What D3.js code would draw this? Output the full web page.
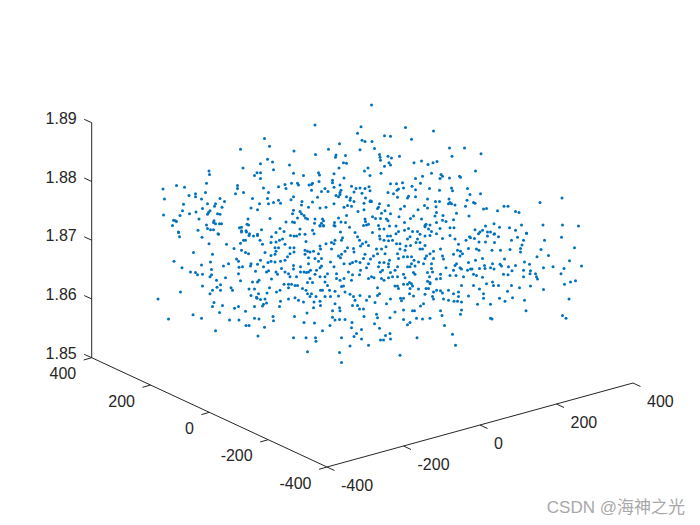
<!DOCTYPE html>
<html><head><meta charset="utf-8">
<style>html,body{margin:0;padding:0;background:#fff}svg{display:block}</style>
<script src="https://cdn.jsdelivr.net/npm/d3@7/dist/d3.min.js"></script></head>
<body><svg id="chart" width="700" height="525"></svg>
<script>
const xTicks = [-400,-200,0,200,400];
const yTicks = [400,200,0,-200,-400];
const zTicks = [1.85,1.86,1.87,1.88,1.89];
const zLabels = ["1.85","1.86","1.87","1.88","1.89"];
const watermark = "CSDN @海神之光";
// each point: [position across the projected view, height value]
const cloudPoints = [
[-90,1.8896],[-191,1.8873],[-181,1.8860],[-239,1.8855],[-132,1.8852],[-89,1.8846],[-63,1.8855],[-41,1.8864],[-5,1.8882],[2,1.8893],[4,1.8870],[10,1.8868],[0,1.8854],[-48,1.8845],[-49,1.8841],[-29,1.8844],[-185,1.8838],[-175,1.8833],[-199,1.8830],[-234,1.8823],[-141,1.8828],[-173,1.8820],[-33,1.8832],[-27,1.8831],[-42,1.8823],[9,1.8818],[16,1.8823],[-302,1.8818],[-301,1.8812],[-206,1.8815],[-199,1.8815],[-211,1.8810],[-199,1.8805],[-133,1.8814],[-113,1.8810],[-83,1.8815],[-81,1.8811],[-52,1.8813],[-32,1.8806],[-55,1.8802],[-55,1.8798],[-82,1.8800],[-307,1.8797],[-245,1.8793],[-245,1.8788],[-367,1.8793],[-351,1.8790],[-394,1.8787],[-193,1.8789],[-163,1.8791],[-150,1.8795],[-148,1.8788],[-137,1.8797],[-125,1.8797],[-123,1.8794],[-102,1.8794],[-97,1.8795],[-95,1.8797],[-97,1.8785],[-77,1.8783],[-70,1.8788],[-64,1.8783],[-52,1.8790],[-40,1.8794],[-38,1.8785],[-40,1.8781],[-17,1.8792],[-8,1.8788],[0,1.8789],[-12,1.8782],[10,1.8788],[18,1.8791],[-309,1.8781],[-183,1.8781],[-233,1.8781],[-249,1.8779],[-342,1.8776],[-329,1.8779],[-329,1.8774],[-391,1.8770],[-317,1.8770],[-280,1.8771],[-271,1.8766],[-305,1.8762],[-289,1.8762],[-291,1.8758],[-353,1.8761],[-315,1.8754],[-300,1.8750],[-303,1.8747],[-276,1.8756],[-355,1.8750],[-360,1.8742],[-328,1.8748],[-341,1.8745],[-305,1.8744],[-285,1.8745],[-280,1.8744],[-393,1.8743],[-215,1.8771],[-185,1.8771],[-183,1.8762],[-173,1.8764],[-163,1.8768],[-159,1.8763],[-201,1.8762],[-218,1.8755],[-205,1.8752],[-138,1.8769],[-133,1.8774],[-116,1.8766],[-117,1.8760],[-95,1.8765],[-103,1.8756],[-80,1.8755],[-68,1.8756],[-52,1.8762],[-85,1.8773],[-48,1.8776],[-43,1.8774],[-40,1.8778],[-27,1.8774],[-19,1.8772],[-20,1.8768],[-25,1.8759],[-17,1.8758],[-32,1.8756],[-12,1.8766],[4,1.8780],[11,1.8772],[8,1.8763],[20,1.8766],[-4,1.8749],[8,1.8752],[-133,1.8751],[-135,1.8745],[-120,1.8749],[-117,1.8745],[-112,1.8742],[-109,1.8738],[-125,1.8738],[-105,1.8736],[-148,1.8731],[-135,1.8731],[-131,1.8730],[-180,1.8737],[-224,1.8736],[-226,1.8727],[-223,1.8726],[-237,1.8722],[-241,1.8721],[-322,1.8736],[-373,1.8734],[-369,1.8733],[-367,1.8732],[-375,1.8725],[-292,1.8733],[-293,1.8730],[-289,1.8728],[-281,1.8728],[-277,1.8728],[-307,1.8726],[-305,1.8720],[-299,1.8718],[-293,1.8718],[-324,1.8717],[-363,1.8714],[-284,1.8711],[-237,1.8716],[-228,1.8716],[-221,1.8711],[-197,1.8718],[-90,1.8736],[-75,1.8736],[-73,1.8733],[-77,1.8729],[-73,1.8725],[-80,1.8725],[-91,1.8729],[-51,1.8730],[-52,1.8725],[-43,1.8738],[-38,1.8731],[-29,1.8730],[-27,1.8742],[10,1.8736],[11,1.8732],[7,1.8725],[13,1.8726],[17,1.8727],[-205,1.8710],
[23,1.8930],[91,1.8892],[147,1.8886],[49,1.8878],[61,1.8877],[103,1.8872],[24,1.8868],[29,1.8856],[179,1.8857],[209,1.8857],[242,1.8847],[184,1.8843],[39,1.8846],[40,1.8841],[41,1.8836],[56,1.8843],[63,1.8840],[79,1.8843],[58,1.8832],[61,1.8828],[49,1.8826],[108,1.8832],[123,1.8835],[136,1.8829],[146,1.8832],[154,1.8834],[231,1.8818],[42,1.8814],[143,1.8814],[162,1.8812],[165,1.8809],[125,1.8809],[111,1.8805],[179,1.8806],[199,1.8809],[201,1.8807],[160,1.8805],[20,1.8810],[61,1.8796],[73,1.8796],[85,1.8798],[121,1.8797],[104,1.8792],[87,1.8789],[77,1.8787],[74,1.8785],[111,1.8786],[139,1.8788],[159,1.8785],[183,1.8789],[185,1.8784],[215,1.8788],[56,1.8781],[67,1.8779],[75,1.8773],[97,1.8775],[95,1.8772],[111,1.8774],[20,1.8784],[220,1.8778],[241,1.8779],[135,1.8770],[151,1.8766],[159,1.8766],[178,1.8770],[180,1.8764],[177,1.8762],[183,1.8762],[190,1.8760],[214,1.8768],[227,1.8764],[230,1.8763],[211,1.8758],[21,1.8767],[23,1.8766],[39,1.8762],[37,1.8756],[35,1.8754],[57,1.8759],[50,1.8750],[81,1.8753],[89,1.8758],[116,1.8752],[129,1.8759],[135,1.8755],[152,1.8757],[247,1.8753],[253,1.8754],[275,1.8750],[288,1.8758],[296,1.8758],[360,1.8764],[404,1.8772],[311,1.8749],[318,1.8747],[43,1.8746],[61,1.8745],[25,1.8740],[31,1.8737],[41,1.8737],[53,1.8736],[56,1.8733],[78,1.8740],[101,1.8737],[107,1.8741],[123,1.8736],[153,1.8747],[150,1.8741],[166,1.8742],[165,1.8734],[172,1.8732],[187,1.8735],[193,1.8746],[218,1.8741],[153,1.8730],[89,1.8730],[37,1.8725],[130,1.8725],[132,1.8727],[140,1.8726],[230,1.8718],[245,1.8717],[251,1.8724],[268,1.8728],[279,1.8722],[299,1.8721],[323,1.8726],[311,1.8717],[333,1.8712],[366,1.8726],[405,1.8726],[437,1.8724],[255,1.8714],[269,1.8711],[237,1.8711],
[-363,1.8713],[-361,1.8706],[-316,1.8705],[-283,1.8710],[-302,1.8694],[-333,1.8679],[-295,1.8676],[-372,1.8664],[-356,1.8653],[-317,1.8658],[-299,1.8663],[-297,1.8650],[-339,1.8646],[-329,1.8645],[-325,1.8641],[-315,1.8642],[-297,1.8641],[-300,1.8638],[-315,1.8622],[-287,1.8632],[-279,1.8624],[-286,1.8620],[-295,1.8615],[-279,1.8615],[-269,1.8636],[-273,1.8656],[-263,1.8660],[-267,1.8693],[-252,1.8686],[-359,1.8612],[-300,1.8609],[-404,1.8600],[-292,1.8594],[-295,1.8587],[-275,1.8589],[-281,1.8577],[-334,1.8573],[-317,1.8567],[-383,1.8566],[-289,1.8546],[-258,1.8619],[-255,1.8615],[-251,1.8584],[-243,1.8587],[-261,1.8564],[-242,1.8564],[-229,1.8579],[-228,1.8555],[-222,1.8555],[-211,1.8567],[-202,1.8566],[-191,1.8552],[-204,1.8537],[-174,1.8570],[-173,1.8563],[-131,1.8570],[-133,1.8534],[-112,1.8560],[-108,1.8534],[-105,1.8510],[-91,1.8559],[-89,1.8534],[-88,1.8528],[-75,1.8546],[-60,1.8555],[-41,1.8509],[-37,1.8492],[-37,1.8534],[-20,1.8520],[-12,1.8536],[-7,1.8541],[3,1.8548],[3,1.8532],[17,1.8521],[-17,1.8551],[-16,1.8560],[-30,1.8565],[-41,1.8565],[-50,1.8564],[-55,1.8569],[-55,1.8580],[-41,1.8585],[-40,1.8580],[8,1.8570],[-106,1.8576],[-93,1.8585],[-79,1.8589],[-161,1.8587],[-211,1.8587],[-195,1.8588],[-193,1.8591],[-187,1.8593],[-199,1.8599],[-190,1.8600],[-206,1.8601],[-207,1.8603],[-218,1.8606],[-222,1.8617],[-211,1.8617],[-203,1.8609],[-186,1.8610],[-181,1.8619],[-15,1.8589],[-5,1.8589],[-1,1.8583],[7,1.8583],[-239,1.8631],[-215,1.8629],[-205,1.8629],[-202,1.8632],[-187,1.8646],[-183,1.8648],[-209,1.8647],[-243,1.8643],[-242,1.8654],[-235,1.8655],[-219,1.8656],[-218,1.8660],[-205,1.8659],[-243,1.8664],[-247,1.8668],[-199,1.8666],[-193,1.8655],[-184,1.8662],[-229,1.8679],[-223,1.8677],[-237,1.8683],[-233,1.8700],[-239,1.8695],[-229,1.8700],[-222,1.8708],[-213,1.8707],[-205,1.8708],[-237,1.8714],[-227,1.8714],[-200,1.8700],[-195,1.8693],[-190,1.8679],
[333,1.8712],[403,1.8705],[369,1.8700],[429,1.8687],[362,1.8684],[377,1.8674],[354,1.8672],[419,1.8665],[443,1.8656],[386,1.8655],[367,1.8653],[408,1.8652],[402,1.8643],[409,1.8625],[421,1.8629],[431,1.8631],[367,1.8616],[418,1.8600],[405,1.8572],[412,1.8567],[351,1.8643],[353,1.8638],[355,1.8634],[339,1.8659],[341,1.8648],[340,1.8643],[327,1.8649],[327,1.8638],[341,1.8622],[319,1.8619],[329,1.8598],[332,1.8580],[305,1.8602],[290,1.8596],[279,1.8601],[295,1.8613],[303,1.8623],[277,1.8623],[267,1.8623],[265,1.8629],[253,1.8626],[247,1.8609],[247,1.8601],[261,1.8591],[235,1.8591],[261,1.8567],[264,1.8566],[239,1.8617],[227,1.8623],[233,1.8640],[227,1.8642],[245,1.8637],[221,1.8651],[224,1.8651],[239,1.8652],[249,1.8657],[250,1.8652],[261,1.8653],[265,1.8660],[268,1.8651],[280,1.8659],[283,1.8656],[297,1.8655],[311,1.8657],[304,1.8648],[287,1.8642],[296,1.8641],[329,1.8663],[289,1.8668],[245,1.8669],[231,1.8666],[233,1.8685],[238,1.8683],[264,1.8683],[281,1.8683],[300,1.8684],[321,1.8680],[321,1.8686],[324,1.8692],[327,1.8700],[303,1.8700],[315,1.8705],[277,1.8706],[269,1.8696],[251,1.8697],[238,1.8697],[221,1.8704],[229,1.8703],[255,1.8707],[261,1.8714],[268,1.8710],[240,1.8714],
[121,1.8588],[87,1.8581],[105,1.8580],[109,1.8580],[70,1.8578],[33,1.8574],[35,1.8568],[60,1.8568],[87,1.8565],[100,1.8560],[95,1.8556],[113,1.8567],[125,1.8566],[140,1.8567],[161,1.8580],[164,1.8572],[203,1.8581],[201,1.8574],[169,1.8555],[29,1.8558],[39,1.8550],[60,1.8541],[51,1.8538],[61,1.8532],[47,1.8530],[41,1.8530],[114,1.8534],[185,1.8540],[191,1.8521],[80,1.8504],
[-168,1.8713],[-160,1.8720],[-152,1.8715],[-155,1.8702],[-161,1.8700],[-177,1.8706],[-168,1.8697],[-178,1.8696],[-139,1.8708],[-132,1.8707],[-127,1.8707],[-120,1.8719],[-121,1.8710],[-110,1.8710],[-108,1.8698],[-95,1.8717],[-92,1.8711],[-80,1.8724],[-73,1.8724],[-50,1.8724],[-39,1.8714],[-35,1.8704],[-37,1.8700],[-21,1.8722],[-10,1.8713],[-5,1.8706],[-1,1.8700],[5,1.8694],[1,1.8690],[-13,1.8686],[-12,1.8680],[12,1.8697],[17,1.8691],
[-170,1.8687],[-163,1.8687],[-168,1.8681],[-170,1.8676],[-178,1.8674],[-150,1.8693],[-140,1.8687],[-132,1.8687],[-132,1.8680],[-140,1.8677],[-145,1.8672],[-150,1.8666],[-159,1.8664],[-170,1.8663],[-178,1.8664],[-110,1.8683],[-105,1.8681],[-100,1.8680],[-93,1.8681],[-90,1.8669],[-103,1.8670],[-110,1.8676],[-80,1.8690],[-79,1.8685],[-83,1.8677],[-77,1.8669],[-83,1.8664],[-68,1.8694],[-57,1.8696],[-50,1.8700],[-52,1.8694],[-57,1.8685],[-25,1.8687],[-30,1.8681],[-37,1.8676],[-43,1.8673],[-39,1.8670],[-32,1.8660],[-20,1.8660],[-15,1.8662],[-8,1.8664],[0,1.8662],[7,1.8669],[10,1.8676],[17,1.8660],[13,1.8653],
[-157,1.8652],[-150,1.8646],[-143,1.8643],[-140,1.8638],[-133,1.8657],[-133,1.8651],[-127,1.8638],[-168,1.8646],[-165,1.8642],[-177,1.8634],[-119,1.8655],[-119,1.8646],[-112,1.8646],[-107,1.8645],[-103,1.8646],[-99,1.8649],[-103,1.8660],[-87,1.8649],[-80,1.8653],[-77,1.8656],[-100,1.8635],[-105,1.8628],[-95,1.8628],[-90,1.8642],[-80,1.8638],[-70,1.8638],[-65,1.8643],[-59,1.8663],[-52,1.8655],[-47,1.8643],[-47,1.8635],[-40,1.8632],[-32,1.8635],[-23,1.8646],[-15,1.8641],[-17,1.8632],[1,1.8649],[-1,1.8641],[17,1.8635],
[-152,1.8625],[-143,1.8625],[-143,1.8619],[-137,1.8625],[-130,1.8623],[-125,1.8623],[-115,1.8618],[-108,1.8615],[-105,1.8609],[-160,1.8615],[-167,1.8612],[-65,1.8623],[-70,1.8629],[-61,1.8615],[-75,1.8615],[-79,1.8615],[-97,1.8609],[-100,1.8604],[-88,1.8604],[-70,1.8604],[-59,1.8604],[-50,1.8613],[-43,1.8605],[-37,1.8621],[-33,1.8622],[-30,1.8612],[-20,1.8608],[-13,1.8604],[0,1.8606],[-10,1.8598],[13,1.8598],[19,1.8604],[-143,1.8600],[-159,1.8596],[-130,1.8602],[-123,1.8598],[-113,1.8595],[-92,1.8595],[-80,1.8596],[-50,1.8592],
[25,1.8713],[39,1.8719],[48,1.8719],[59,1.8724],[72,1.8724],[77,1.8715],[72,1.8711],[61,1.8707],[55,1.8707],[39,1.8707],[40,1.8702],[48,1.8700],[57,1.8699],[65,1.8700],[89,1.8717],[97,1.8720],[105,1.8715],[100,1.8706],[95,1.8702],[115,1.8715],[120,1.8710],[130,1.8723],[137,1.8719],[143,1.8715],[153,1.8711],[160,1.8720],[140,1.8708],[130,1.8707],[115,1.8702],[112,1.8696],[120,1.8696],[130,1.8691],[125,1.8685],[120,1.8685],[92,1.8690],[101,1.8691],[80,1.8694],[73,1.8694],[180,1.8721],[188,1.8721],[165,1.8703],[180,1.8708],[190,1.8702],[212,1.8700],[219,1.8706],
[33,1.8685],[43,1.8685],[52,1.8689],[35,1.8677],[27,1.8673],[21,1.8668],[50,1.8677],[80,1.8685],[90,1.8683],[75,1.8677],[77,1.8669],[87,1.8672],[95,1.8672],[103,1.8672],[161,1.8685],[147,1.8681],[140,1.8677],[133,1.8673],[130,1.8669],[147,1.8669],[165,1.8673],[167,1.8668],[197,1.8693],[195,1.8683],[201,1.8681],[205,1.8677],[200,1.8673],[187,1.8676],[217,1.8686],
[39,1.8662],[48,1.8662],[59,1.8666],[57,1.8660],[37,1.8655],[41,1.8646],[45,1.8649],[57,1.8655],[70,1.8649],[61,1.8645],[75,1.8655],[108,1.8666],[103,1.8660],[100,1.8655],[95,1.8655],[110,1.8656],[117,1.8663],[127,1.8660],[143,1.8660],[193,1.8660],[190,1.8657],[172,1.8653],[200,1.8653],[203,1.8651],[217,1.8662],[215,1.8649],
[23,1.8638],[28,1.8636],[43,1.8635],[48,1.8632],[57,1.8636],[65,1.8638],[75,1.8638],[87,1.8642],[90,1.8636],[107,1.8645],[110,1.8642],[135,1.8645],[139,1.8638],[143,1.8652],[145,1.8646],[135,1.8630],[140,1.8628],[161,1.8642],[161,1.8635],[153,1.8634],[180,1.8640],[187,1.8649],[192,1.8640],[207,1.8638],
[35,1.8619],[39,1.8609],[35,1.8606],[70,1.8622],[75,1.8622],[77,1.8618],[87,1.8625],[95,1.8625],[99,1.8628],[103,1.8626],[105,1.8622],[100,1.8618],[117,1.8617],[132,1.8618],[137,1.8618],[140,1.8626],[147,1.8612],[153,1.8615],[161,1.8614],[165,1.8610],[130,1.8608],[145,1.8604],[147,1.8600],[177,1.8615],[187,1.8609],[197,1.8612],[197,1.8604],[188,1.8596],[195,1.8596],[217,1.8605],[203,1.8623],
[61,1.8600],[53,1.8592],[30,1.8594],[81,1.8601],[87,1.8601],[83,1.8597],[99,1.8609],[107,1.8605],[127,1.8592],[167,1.8600],[177,1.8598],[203,1.8595]
];

const svg = d3.select("#chart");
const ink = "#262626";
const xAlong = d3.scaleLinear().domain([-400,400]).range([327,633]);
const xRise  = d3.scaleLinear().domain([-400,400]).range([467,383]);
const yAlong = d3.scaleLinear().domain([-400,400]).range([327,91.7]);
const yRise  = d3.scaleLinear().domain([-400,400]).range([467,357.7]);
const zScale = d3.scaleLinear().domain([1.85,1.89]).range([357.7,122.7]);
const across = d3.scaleLinear().domain([-400,400]).range([160,560]);

const axes = svg.append("g").attr("fill","none").attr("stroke",ink).attr("stroke-width",1);
const seg = (x1,y1,x2,y2)=>axes.append("line").attr("x1",x1).attr("y1",y1).attr("x2",x2).attr("y2",y2);
seg(xAlong(-400),xRise(-400),xAlong(400),xRise(400));
seg(yAlong(-400),yRise(-400),yAlong(400),yRise(400));
seg(yAlong(400),zScale(1.85),yAlong(400),zScale(1.89));
xTicks.forEach(v=>seg(xAlong(v),xRise(v),xAlong(v)+7.5,xRise(v)+3.5));
yTicks.forEach(v=>seg(yAlong(v),yRise(v),yAlong(v)-8,yRise(v)+2.3));
zTicks.forEach(v=>seg(yAlong(400),zScale(v),yAlong(400)-7.5,zScale(v)-3.4));

const labels = svg.append("g").attr("font-family","'Liberation Sans',Arial,sans-serif").attr("font-size",16).attr("fill",ink);
labels.selectAll("text.x").data(xTicks).join("text").attr("class","x")
  .attr("x",d=>xAlong(d)+14).attr("y",d=>xRise(d)+18).attr("dy","0.35em").text(d=>d);
labels.selectAll("text.y").data(yTicks).join("text").attr("class","y").attr("text-anchor","end")
  .attr("x",d=>yAlong(d)-15.5).attr("y",d=>yRise(d)+16).attr("dy","0.35em").text(d=>d);
labels.selectAll("text.z").data(zTicks).join("text").attr("class","z").attr("text-anchor","end")
  .attr("x",yAlong(400)-15).attr("y",d=>zScale(d)-4.5).attr("dy","0.35em").text((d,i)=>zLabels[i]);

svg.append("g").attr("fill","#0072BD").selectAll("circle").data(cloudPoints).join("circle")
  .attr("cx",d=>across(d[0])).attr("cy",d=>zScale(d[1])).attr("r",1.5);

svg.append("text").attr("x",685).attr("y",513).attr("text-anchor","end")
  .attr("font-family","'Liberation Sans','Noto Sans CJK SC',sans-serif").attr("font-size",17).attr("fill","#a8a8a8").text(watermark);
</script></body></html>
